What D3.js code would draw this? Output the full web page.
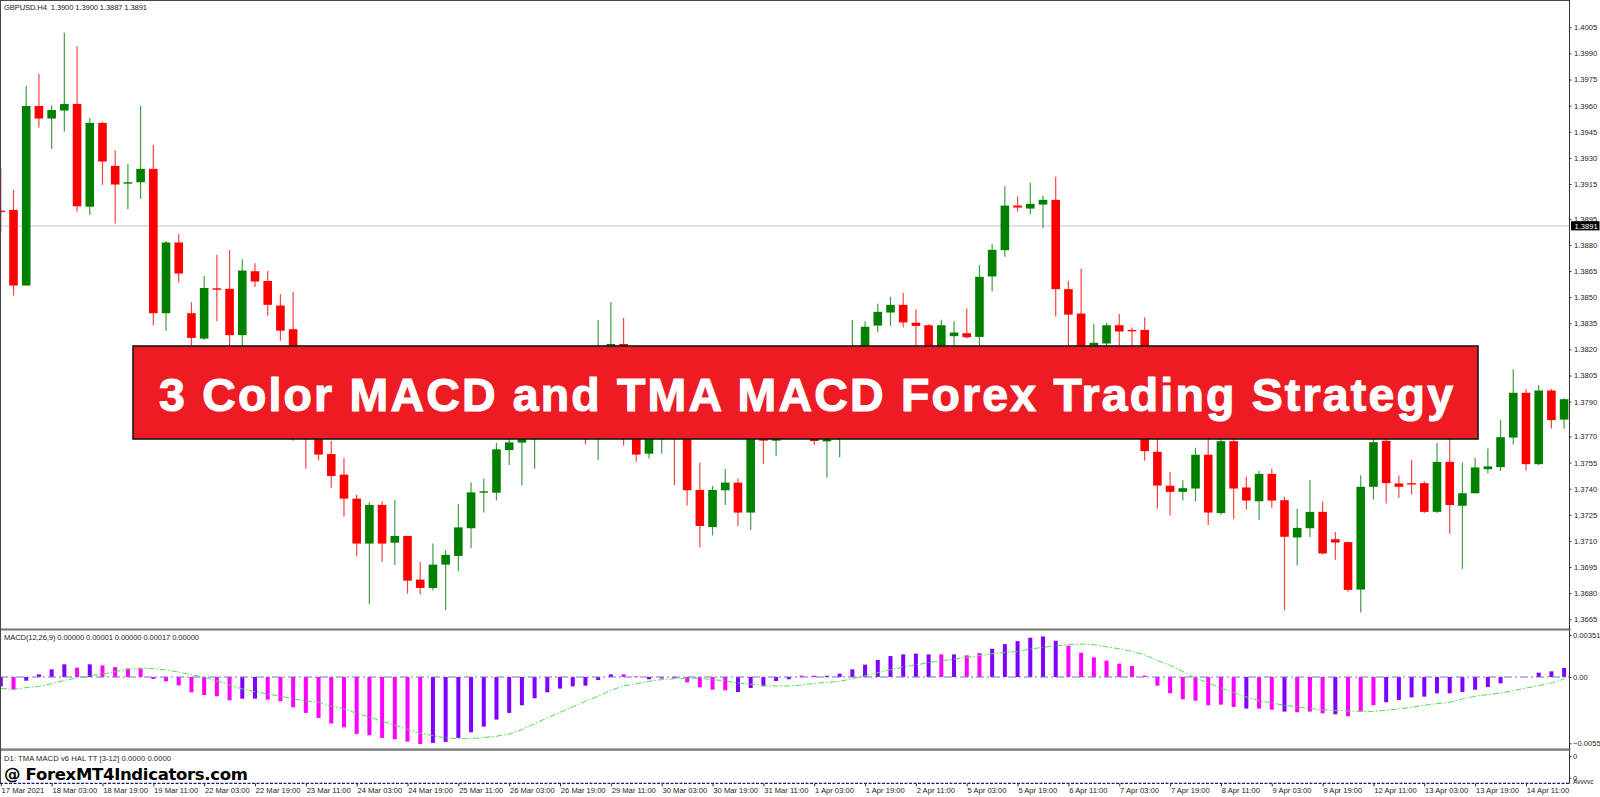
<!DOCTYPE html>
<html>
<head>
<meta charset="utf-8">
<script src="https://d3js.org/d3.v7.min.js"></script>
<style>
body { margin: 0; background: #fff; overflow: hidden; }
svg { display: block; }
text { font-family: "Liberation Sans", sans-serif; font-size: 7.6px; fill: #222; }
</style>
</head>
<body>
<script>
// GBPUSD H4 candles (bars under the banner are estimates)
var opens = [1.38997,1.39001,1.38567,1.39598,1.39526,1.39572,1.39610,1.39020,1.39501,1.39254,
 1.39152,1.39160,1.39237,1.38408,1.38814,1.38408,1.38262,1.38551,1.38548,1.38282,
 1.38649,1.38593,1.38452,1.38316,1.38053,1.37795,1.37599,1.37481,1.37343,1.37085,
 1.37307,1.37090,1.37129,1.36878,1.36830,1.36964,1.37014,1.37173,1.37381,1.37377,
 1.37622,1.37665,1.37738,1.37795,1.37881,1.37996,1.37910,1.37824,1.38025,1.38231,
 1.37938,1.37601,1.37738,1.37795,1.37703,1.37393,1.37180,1.37391,1.37435,1.37263,
 1.37824,1.37676,1.37795,1.37738,1.37726,1.37672,1.37795,1.37996,1.38140,1.38337,
 1.38412,1.38456,1.38353,1.38339,1.38053,1.38276,1.38293,1.38272,1.38619,1.38770,
 1.39026,1.39009,1.39032,1.39059,1.38546,1.38406,1.38053,1.38234,1.38339,1.38312,
 1.38312,1.37612,1.37417,1.37382,1.37401,1.37595,1.37260,1.37673,1.37407,1.37328,
 1.37485,1.37334,1.37120,1.37173,1.37267,1.37110,1.37093,1.36821,1.37411,1.37675,
 1.37430,1.37432,1.37432,1.37267,1.37554,1.37302,1.37374,1.37512,1.37524,1.37694,
 1.37951,1.37541,1.37964,1.37797];
var highs = [1.39240,1.39116,1.39713,1.39782,1.39602,1.40018,1.39941,1.39529,1.39506,1.39342,
 1.39265,1.39598,1.39374,1.38823,1.38863,1.38471,1.38622,1.38743,1.38771,1.38718,
 1.38695,1.38651,1.38517,1.38530,1.38111,1.37841,1.37674,1.37577,1.37364,1.37322,
 1.37330,1.37335,1.37129,1.36979,1.37085,1.37046,1.37312,1.37435,1.37458,1.37663,
 1.37709,1.37766,1.37841,1.37938,1.38053,1.38082,1.38025,1.38369,1.38473,1.38381,
 1.38025,1.37996,1.37938,1.37881,1.37795,1.37550,1.37416,1.37513,1.37458,1.37881,
 1.37910,1.37881,1.37852,1.37795,1.37795,1.37996,1.38082,1.38369,1.38362,1.38462,
 1.38502,1.38525,1.38431,1.38345,1.38370,1.38362,1.38435,1.38686,1.38804,1.39137,
 1.39078,1.39157,1.39082,1.39191,1.38594,1.38663,1.38347,1.38353,1.38404,1.38326,
 1.38385,1.37881,1.37495,1.37449,1.37635,1.37795,1.37738,1.37738,1.37468,1.37503,
 1.37514,1.37353,1.37284,1.37449,1.37327,1.37152,1.37097,1.37478,1.37766,1.37749,
 1.37476,1.37564,1.37443,1.37663,1.37766,1.37550,1.37577,1.37631,1.37795,1.38086,
 1.37973,1.37996,1.37972,1.37920];
var lows = [1.38871,1.38509,1.38567,1.39474,1.39351,1.39451,1.38990,1.38972,1.39145,1.38923,
 1.39005,1.39064,1.38337,1.38306,1.38584,1.38197,1.38254,1.38362,1.38197,1.38197,
 1.38559,1.38394,1.38249,1.37676,1.37515,1.37563,1.37406,1.37240,1.37012,1.36738,
 1.36981,1.36962,1.36798,1.36794,1.36815,1.36702,1.36926,1.37058,1.37263,1.37332,
 1.37536,1.37418,1.37515,1.37738,1.37824,1.37795,1.37655,1.37565,1.37852,1.37647,
 1.37555,1.37573,1.37601,1.37421,1.37303,1.37062,1.37131,1.37307,1.37186,1.37163,
 1.37544,1.37590,1.37692,1.37692,1.37653,1.37464,1.37580,1.37910,1.38082,1.38299,
 1.38335,1.38326,1.38111,1.37996,1.37996,1.38053,1.38263,1.38217,1.38533,1.38732,
 1.38992,1.38975,1.38896,1.38389,1.38168,1.37910,1.37996,1.38197,1.38168,1.38185,
 1.37560,1.37286,1.37246,1.37332,1.37327,1.37191,1.37250,1.37227,1.37281,1.37221,
 1.37290,1.36703,1.36959,1.37122,1.37024,1.36992,1.36808,1.36689,1.37338,1.37315,
 1.37346,1.37367,1.37260,1.37261,1.37141,1.36940,1.37372,1.37487,1.37501,1.37654,
 1.37505,1.37535,1.37746,1.37744];
var closes = [1.38990,1.38567,1.39598,1.39526,1.39575,1.39610,1.39022,1.39501,1.39279,1.39147,
 1.39160,1.39237,1.38408,1.38814,1.38636,1.38266,1.38553,1.38544,1.38282,1.38653,
 1.38590,1.38456,1.38308,1.38053,1.37795,1.37596,1.37473,1.37343,1.37085,1.37307,
 1.37085,1.37129,1.36872,1.36830,1.36964,1.37020,1.37178,1.37379,1.37385,1.37626,
 1.37666,1.37718,1.37795,1.37881,1.37996,1.37910,1.37824,1.38053,1.38231,1.37938,
 1.37596,1.37910,1.37852,1.37709,1.37391,1.37186,1.37393,1.37435,1.37263,1.37824,
 1.37676,1.37795,1.37738,1.37709,1.37674,1.37910,1.37996,1.38140,1.38330,1.38416,
 1.38456,1.38355,1.38335,1.38082,1.38339,1.38297,1.38270,1.38617,1.38772,1.39026,
 1.39015,1.39036,1.39059,1.38546,1.38400,1.38025,1.38238,1.38339,1.38303,1.38309,
 1.37616,1.37418,1.37382,1.37403,1.37595,1.37263,1.37673,1.37401,1.37332,1.37485,
 1.37332,1.37124,1.37175,1.37267,1.37028,1.37091,1.36819,1.37411,1.37667,1.37432,
 1.37411,1.37428,1.37267,1.37554,1.37306,1.37374,1.37522,1.37528,1.37696,1.37951,
 1.37541,1.37964,1.37794,1.37914];

// MACD histogram and signal line, in units of 0.00001
var macdHist = [-78,-106,-31,22,64,106,78,106,97,83,72,70,-17,-36,-70,-128,-150,-161,-195,-181,
 -181,-189,-203,-253,-300,-342,-389,-420,-476,-487,-509,-520,-540,-559,-551,-542,-509,-462,-415,-356,
 -300,-236,-178,-128,-97,-78,-72,-25,22,22,6,-19,-14,-11,-45,-86,-106,-111,-125,-92,
 -78,-33,-19,11,11,11,28,64,103,142,175,189,195,189,189,189,181,200,236,275,
 300,328,339,303,262,203,164,136,111,92,11,-72,-136,-186,-198,-236,-231,-250,-264,-264,
 -273,-289,-295,-289,-303,-312,-328,-289,-236,-211,-192,-170,-164,-136,-136,-125,-106,-83,-53,0,
 0,36,47,75];
// p = purple bar, m = magenta bar
var macdKind = "pmppppmpmmmmmmmmmmmppmmmmmmmmmmmmmppppppppppppppp" + "mmpmmmmmmpppppmmpppppppppmpmmpppppp" + "mmmmmmmmmmmmmmpmmpmmmpmmmpppppppppppppppppp";
var macdSignal = [-95,-103,-89,-78,-56,-28,-8,11,25,45,64,75,70,58,42,19,-3,-33,-67,-100,
 -122,-142,-161,-181,-200,-211,-242,-267,-303,-334,-370,-403,-437,-470,-490,-509,-515,-515,-506,-495,
 -476,-440,-389,-342,-295,-250,-203,-159,-111,-75,-56,-36,-22,-14,-11,-11,-22,-33,-50,-61,
 -70,-75,-75,-67,-53,-45,-36,-14,11,36,61,83,100,120,136,150,164,178,195,206,
 214,234,248,262,270,275,270,253,236,214,184,139,97,45,-8,-50,-92,-131,-167,-198,
 -217,-236,-250,-264,-273,-281,-284,-287,-287,-278,-267,-253,-236,-223,-211,-184,-161,-147,-134,-114,
 -92,-72,-50,-17];

var priceTicks = [1.4005,1.3990,1.3975,1.3960,1.3945,1.3930,1.3915,1.3895,1.3880,1.3865,1.3850,1.3835,
 1.3820,1.3805,1.3790,1.3770,1.3755,1.3740,1.3725,1.3710,1.3695,1.3680,1.3665];
var lastPrice = 1.3891;
var macdTicks = [0.00351,0,-0.00554];
var timeLabels = ["17 Mar 2021","18 Mar 03:00","18 Mar 19:00","19 Mar 11:00","22 Mar 03:00","22 Mar 19:00",
 "23 Mar 11:00","24 Mar 03:00","24 Mar 19:00","25 Mar 11:00","26 Mar 03:00","26 Mar 19:00","29 Mar 11:00",
 "30 Mar 03:00","30 Mar 19:00","31 Mar 11:00","1 Apr 03:00","1 Apr 19:00","2 Apr 11:00","5 Apr 03:00",
 "5 Apr 19:00","6 Apr 11:00","7 Apr 03:00","7 Apr 19:00","8 Apr 11:00","9 Apr 03:00","9 Apr 19:00",
 "12 Apr 11:00","13 Apr 03:00","13 Apr 19:00","14 Apr 11:00"];

var width = 1600, height = 797;
var axisX = 1569.5;
var red = "#ff0000", green = "#008000";

var svg = d3.select("body").append("svg")
    .attr("width", width)
    .attr("height", height);

var barIndex = d3.range(opens.length);
var x = d3.scaleLinear().domain([0, 123]).range([0.8, 1564.1]);
var yPrice = d3.scaleLinear().domain([1.4005, 1.3665]).range([27.3, 619.3]);
var yMacd = d3.scaleLinear().domain([0.00351, -0.00554]).range([635, 743.3]);
var yD1 = d3.scaleLinear().domain([1, 0]).range([756, 777.7]);

//current price line
svg.append("line")
    .attr("x1", 0).attr("x2", axisX)
    .attr("y1", yPrice(lastPrice)).attr("y2", yPrice(lastPrice))
    .style("stroke", "#d2d2d2").style("stroke-width", 1.2);

//CANDLES
var candles = svg.append("g").selectAll("g").data(barIndex).enter().append("g");
var candleColor = i => closes[i] >= opens[i] ? green : red;

candles.append("line")
    .attr("x1", i => x(i)).attr("x2", i => x(i))
    .attr("y1", i => yPrice(highs[i]))
    .attr("y2", i => yPrice(lows[i]))
    .style("stroke", candleColor)
    .style("stroke-width", 1.2)
    .style("stroke-opacity", .75);

candles.append("rect")
    .attr("x", i => x(i) - 4.3)
    .attr("width", 8.6)
    .attr("y", i => Math.min(yPrice(opens[i]), yPrice(closes[i])))
    .attr("height", i => Math.max(1.4, Math.abs(yPrice(opens[i]) - yPrice(closes[i]))))
    .style("fill", candleColor);

//MACD PANEL
var hist = svg.append("g").selectAll("rect").data(barIndex).enter().append("rect")
    .attr("x", i => x(i) - 2)
    .attr("width", 4)
    .attr("y", i => Math.min(yMacd(0), yMacd(macdHist[i] / 1e5)))
    .attr("height", i => Math.abs(yMacd(0) - yMacd(macdHist[i] / 1e5)))
    .style("fill", i => macdKind[i] == "p" ? "#8000ff" : "#ff00ff");

svg.append("line")
    .attr("x1", 0).attr("x2", axisX)
    .attr("y1", yMacd(0)).attr("y2", yMacd(0))
    .style("stroke", "#7a6fe0")
    .style("stroke-width", 1.2)
    .style("stroke-dasharray", "8,3,2,3");

var signalLine = d3.line()
    .x(i => x(i))
    .y(i => yMacd(macdSignal[i] / 1e5));

svg.append("path")
    .attr("d", signalLine(barIndex))
    .style("fill", "none")
    .style("stroke", "#4fe04f")
    .style("stroke-width", 1)
    .style("stroke-dasharray", "6,2,1.5,2");

//PANEL SEPARATORS
[[628.4, 2.2], [748.4, 2.4]].forEach(function(s) {
    svg.append("rect").attr("x", 0).attr("y", s[0]).attr("width", axisX + 1).attr("height", s[1])
        .style("fill", "#7d7d7d");
});
svg.append("rect").attr("x", 0).attr("y", 0).attr("width", axisX).attr("height", 1).style("fill", "#444");
svg.append("rect").attr("x", 0).attr("y", 0).attr("width", 1).attr("height", 783).style("fill", "#444");

//AXES
function styleAxis(g) {
    g.selectAll("path,line").style("stroke", "#333");
}
var priceAxis = d3.axisRight(yPrice).tickValues(priceTicks).tickFormat(d3.format(".4f")).tickSize(2).tickPadding(2.5);
svg.append("g").attr("transform", "translate(" + axisX + ",0)").call(priceAxis).call(styleAxis)
    .select(".domain").attr("d", "M0,0V630");

var macdAxis = d3.axisRight(yMacd).tickValues(macdTicks)
    .tickFormat(d => d == 0 ? "0.00" : d3.format(".5f")(d)).tickSize(2).tickPadding(1.5);
svg.append("g").attr("transform", "translate(" + axisX + ",0)").call(macdAxis).call(styleAxis)
    .select(".domain").attr("d", "M0,630.5V749");

var d1Axis = d3.axisRight(yD1).tickValues([1, 0]).tickFormat(() => "0").tickSize(2).tickPadding(1.5);
svg.append("g").attr("transform", "translate(" + axisX + ",0)").call(d1Axis).call(styleAxis)
    .select(".domain").attr("d", "M0,750.5V783.5");

svg.append("text").attr("x", 1573).attr("y", 784).text("Avvvvc").style("font-size", "6.5px");

// tick labels sit every 4th bar
var timeAxis = d3.axisBottom(x)
    .tickValues(timeLabels.map((d, k) => k * 4))
    .tickFormat((d, k) => timeLabels[k])
    .tickSize(3).tickPadding(1);
var timeG = svg.append("g").attr("transform", "translate(0,783.4)").call(timeAxis).call(styleAxis);
timeG.select(".domain").attr("d", "M0,0H" + axisX)
    .style("stroke", "#1c1c6e").style("stroke-width", 1.2).style("stroke-dasharray", "3,1.5");
timeG.selectAll("text").attr("text-anchor", "start").attr("dx", "0.3");

//current price tag
svg.append("rect").attr("x", 1571).attr("y", yPrice(lastPrice) - 4.6).attr("width", 28.5).attr("height", 9.2)
    .style("fill", "#000");
svg.append("text").attr("x", 1574.5).attr("y", yPrice(lastPrice) + 2.8).text(d3.format(".4f")(lastPrice))
    .style("fill", "#fff");

//LEGENDS
svg.append("text").attr("x", 4).attr("y", 9.5).text("GBPUSD.H4  1.3900 1.3900 1.3887 1.3891")
    .attr("xml:space", "preserve").attr("textLength", 143);
svg.append("text").attr("x", 4).attr("y", 639.5).text("MACD(12,26,9) 0.00000 0.00001 0.00000 0.00017 0.00000")
    .attr("textLength", 195);
svg.append("text").attr("x", 4).attr("y", 760.5).text("D1: TMA MACD v6 HAL TT [3-12] 0.0000 0.0000")
    .attr("textLength", 167);

svg.append("text").attr("x", 4).attr("y", 780)
    .text("@ ForexMT4Indicators.com")
    .attr("textLength", 244)
    .style("font-family", "'DejaVu Sans', sans-serif")
    .style("font-weight", "bold").style("font-size", "16.5px").style("fill", "#000");

//BANNER
svg.append("rect")
    .attr("x", 133).attr("y", 346).attr("width", 1345).attr("height", 93)
    .style("fill", "#ed1c24")
    .style("stroke", "#1a1a1a").style("stroke-width", 1.6);
svg.append("text")
    .attr("x", 159).attr("y", 411)
    .text("3 Color MACD and TMA MACD Forex Trading Strategy")
    .attr("textLength", 1294)
    .style("font-weight", "bold").style("font-size", "46.5px")
    .style("fill", "#fff").style("stroke", "#fff").style("stroke-width", 1.1);
</script>
</body>
</html>
